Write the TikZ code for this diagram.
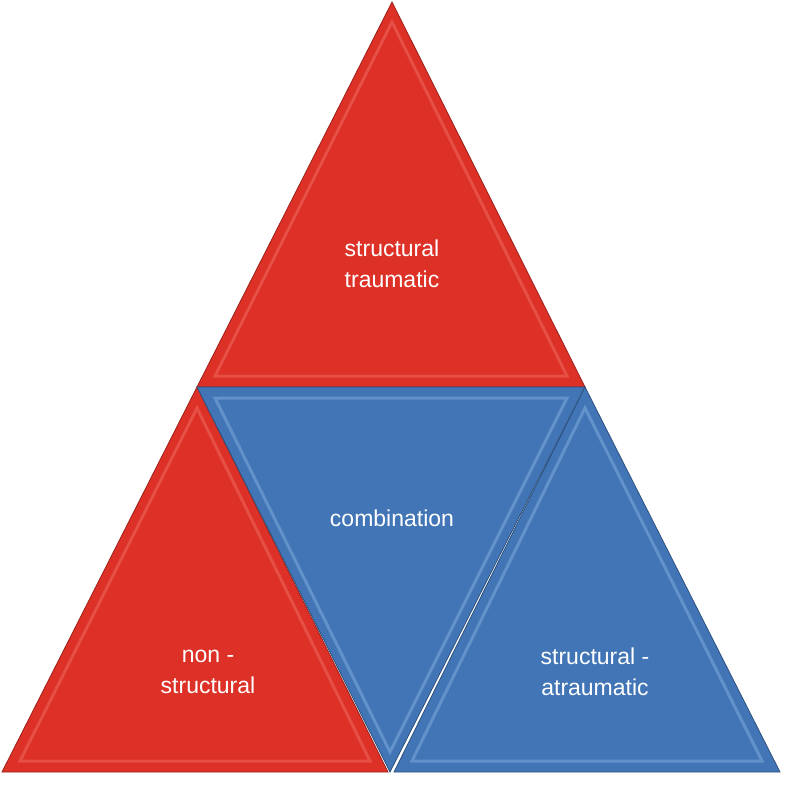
\documentclass[tikz,border=0pt]{standalone}
\usepackage{fontspec}
\setmainfont{Liberation Sans}
\definecolor{tred}{RGB}{221,48,38}
\definecolor{tblue}{RGB}{66,117,182}
\definecolor{tredl}{RGB}{240,110,100}
\definecolor{tbluel}{RGB}{130,175,220}
\begin{document}
\begin{tikzpicture}[x=1pt,y=-1pt,
  redtri/.style={fill=tred,draw=tred!70!black,line width=0.8pt},
  bluetri/.style={fill=tblue,draw=tblue!70!black,line width=0.8pt},
  redbev/.style={draw=tredl,line width=3pt,opacity=0.5},
  bluebev/.style={draw=tbluel,line width=3pt,opacity=0.5},
  lbl/.style={text=white,font=\fontsize{23}{31}\selectfont,align=center}]
\useasboundingbox (0,0) rectangle (785,785);
% top
\fill[redtri] (392,2) -- (585,387) -- (197,387) -- cycle;
\draw[redbev] (392,22) -- (567,376) -- (215,376) -- cycle;
% bottom left
\fill[redtri] (197,387) -- (388,772) -- (2,772) -- cycle;
\draw[redbev] (197,408) -- (370,761) -- (20,761) -- cycle;
% combination
\fill[bluetri] (197,387) -- (585,387) -- (390,772) -- cycle;
\draw[bluebev] (215,398) -- (567,398) -- (390,752) -- cycle;
% bottom right
\fill[bluetri] (585,387) -- (780,772) -- (394,772) -- cycle;
\draw[bluebev] (585,408) -- (762,761) -- (412,761) -- cycle;
\node[lbl] (t) at (392,264) {structural\\traumatic};
\node[lbl] (c) at (392,518) {combination};
\node[lbl] (l) at (208,672) {non -\\structural};
\node[lbl] (r) at (595,672) {structural -\\atraumatic};
\end{tikzpicture}
\end{document}
